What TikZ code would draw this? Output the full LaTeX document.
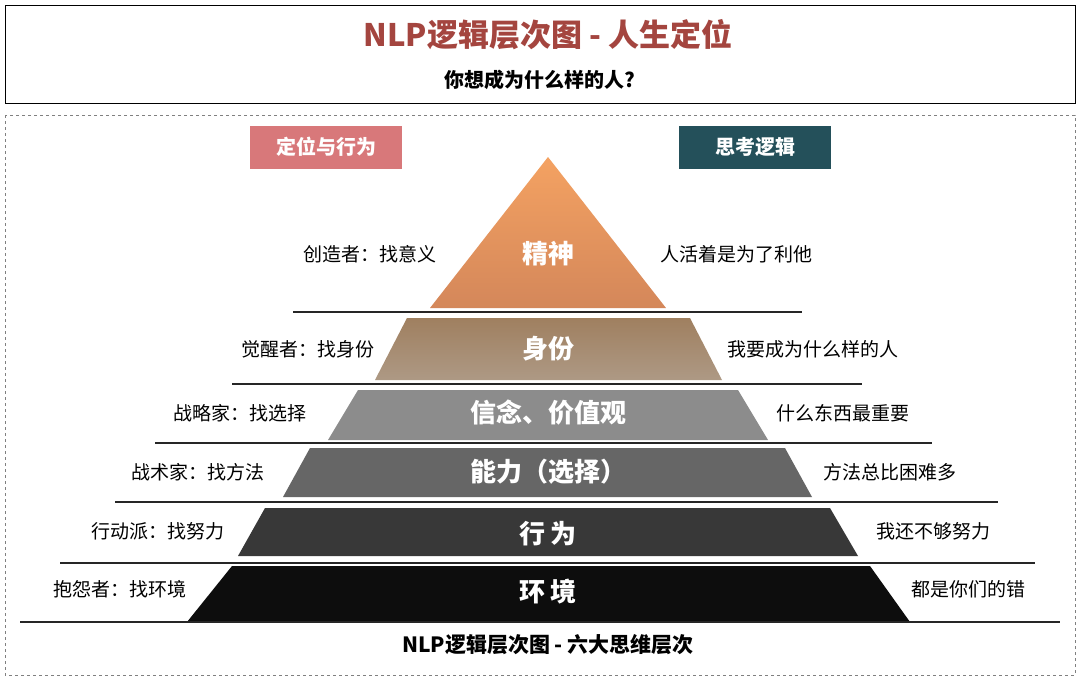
\documentclass[tikz,border=0pt]{standalone}
\usepackage{fontspec}
\setmainfont{Noto Sans CJK SC}
\usetikzlibrary{shadings}
\definecolor{titlered}{HTML}{A4453F}
\definecolor{salmon}{HTML}{D8787A}
\definecolor{teal}{HTML}{24505A}
\definecolor{orTop}{HTML}{F4A262}
\definecolor{orBot}{HTML}{D4875A}
\tikzset{
  lbl/.style={font=\fontsize{19}{21}\selectfont, text=black},
  lay/.style={font=\bfseries\fontsize{26}{28}\selectfont, text=white},
  sep/.style={draw=black!85, line width=1.2pt},
  tag/.style={font=\bfseries\fontsize{20}{22}\selectfont, text=white, minimum width=152pt, minimum height=43pt, inner sep=0pt}
}
\begin{document}
\begin{tikzpicture}[x=1pt,y=-1pt]
\useasboundingbox (0,0) rectangle (1080,680);
\fill[white] (0,0) rectangle (1080,680);
% header
\draw[line width=1pt] (5,5) rectangle (1075,103);
\node (title) at (548,35) {\bfseries\fontsize{31}{34}\selectfont\color{titlered}NLP逻辑层次图 - 人生定位};
\node (sub) at (540,80) {\bfseries\fontsize{20}{22}\selectfont 你想成为什么样的人?};
\draw[dashed, black!50, line width=0.8pt] (5,115) rectangle (1075,675);
\node[tag, fill=salmon] (tl) at (326,147) {定位与行为};
\node[tag, fill=teal] (tr) at (755,147) {思考逻辑};
% pyramid
\shade[top color=orTop, bottom color=orBot] (548,157) -- (666,308) -- (430,308) -- cycle;
\shade[top color=brown!50!gray, bottom color=brown!40!gray!80] (407,318) -- (690,318) -- (722,380) -- (375,380) -- cycle;
\fill[black!45] (358,390) -- (738,390) -- (768,440) -- (328,440) -- cycle;
\fill[black!60] (310,448) -- (785,448) -- (812,497) -- (283,497) -- cycle;
\fill[black!78] (265,508) -- (830,508) -- (858,556) -- (238,556) -- cycle;
\fill[black!95] (232,566) -- (870,566) -- (910,622) -- (187,622) -- cycle;
\draw[sep] (293,312) -- (802,312);
\draw[sep] (232,384) -- (862,384);
\draw[sep] (155,443) -- (932,443);
\draw[sep] (115,502) -- (998,502);
\draw[sep] (60,563) -- (1035,563);
\draw[sep] (20,622) -- (1060,622);
\node[lay] (l1) at (548,254) {精神};
\node[lay] (l2) at (548,349) {身份};
\node[lay] (l3) at (548,413) {信念、价值观};
\node[lay] (l4) at (548,472) {能力（选择）};
\node[lay] (l5) at (548,534) {行 为};
\node[lay] (l6) at (548,592) {环 境};
\node[lbl] (a1) at (370,254) {创造者：找意义};
\node[lbl] (a2) at (308,349) {觉醒者：找身份};
\node[lbl] (a3) at (240,413) {战略家：找选择};
\node[lbl] (a4) at (198,472) {战术家：找方法};
\node[lbl] (a5) at (158,531) {行动派：找努力};
\node[lbl] (a6) at (120,589) {抱怨者：找环境};
\node[lbl] (b1) at (736,254) {人活着是为了利他};
\node[lbl] (b2) at (813,349) {我要成为什么样的人};
\node[lbl] (b3) at (843,413) {什么东西最重要};
\node[lbl] (b4) at (890,472) {方法总比困难多};
\node[lbl] (b5) at (933,531) {我还不够努力};
\node[lbl] (b6) at (968,589) {都是你们的错};
\node (cap) at (548,645) {\bfseries\fontsize{21}{23}\selectfont NLP逻辑层次图 - 六大思维层次};
\end{tikzpicture}
\end{document}
